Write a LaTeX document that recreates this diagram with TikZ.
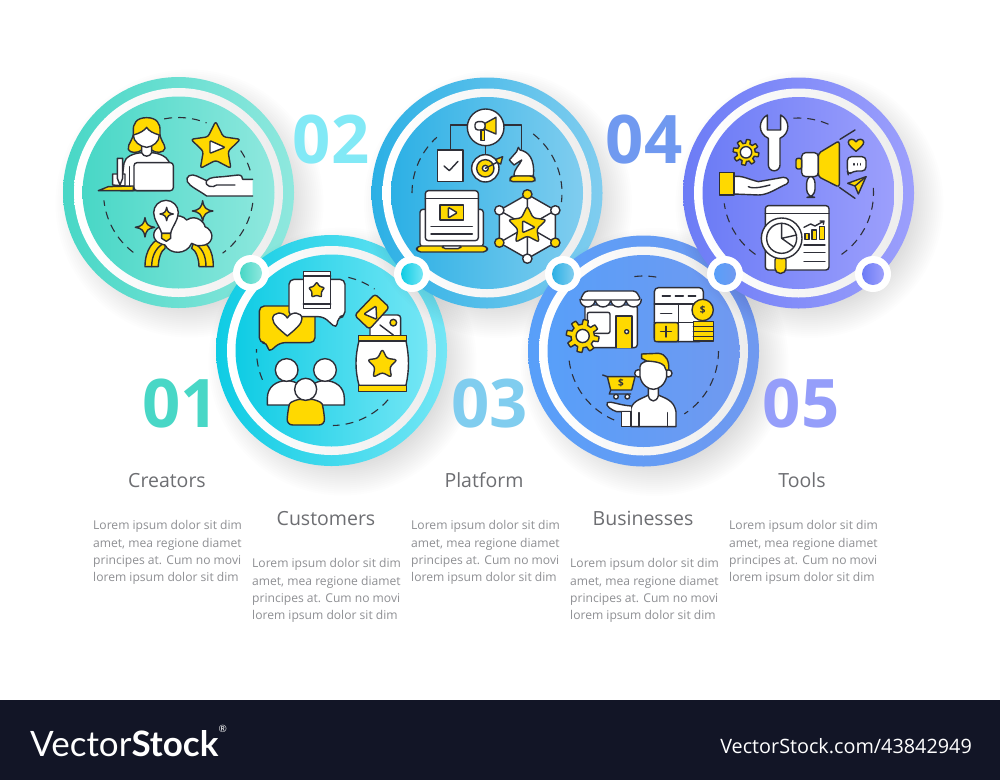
\documentclass[tikz,border=0pt]{standalone}
\usepackage{fontspec}
\setmainfont{Open Sans}
\newfontfamily\logofont{Lato}
\definecolor{inkc}{HTML}{2E2F38}
\definecolor{icoyellow}{HTML}{FFD900}
\definecolor{ringgray}{HTML}{EDEDED}
\definecolor{titlegray}{HTML}{6D6E72}
\definecolor{bodygray}{HTML}{8E8F93}
\definecolor{footerc}{HTML}{121526}
\definecolor{tealL}{HTML}{48D7C6}
\definecolor{tealR}{HTML}{8FE8DE}
\definecolor{aquaL}{HTML}{0FCCE4}
\definecolor{aquaR}{HTML}{74E6F5}
\definecolor{skyL}{HTML}{2CB0E5}
\definecolor{skyR}{HTML}{80CDEF}
\definecolor{blueL}{HTML}{589FF9}
\definecolor{blueR}{HTML}{7099F0}
\definecolor{violetL}{HTML}{6C7CF6}
\definecolor{violetR}{HTML}{9C9FFC}
\tikzset{
  wico/.style={draw=inkc,line width=1.4pt,line join=round,line cap=round,fill=white},
  yico/.style={draw=inkc,line width=1.4pt,line join=round,line cap=round,fill=icoyellow},
  inkline/.style={draw=inkc,line width=1.4pt,line join=round,line cap=round},
  dashring/.style={draw=inkc,line width=1.1pt,dash pattern=on 8pt off 6pt},
  numtext/.style={font=\fontsize{67}{67}\selectfont\bfseries,inner sep=0pt},
  titletext/.style={font=\fontsize{19.5}{22}\selectfont,text=titlegray,inner sep=0pt,anchor=base},
  bodytext/.style={font=\fontsize{12.1}{17.3}\selectfont,text=bodygray,align=left,anchor=north west,inner sep=0pt},
  signtext/.style={font=\fontsize{10}{10}\selectfont\bfseries,text=inkc,inner sep=0pt}
}
\newcommand{\ringdisc}[3]{%
  \foreach \rad in {102,104,...,134}
    \fill[black,opacity=0.008] ([shift={(11,11)}]#1) circle (\rad);
  \shade[left color=#2,right color=#3] (#1) circle (115.5);
  \shade[left color=white,right color=ringgray] (#1) circle (104.5);
  \shade[left color=#2,right color=#3] (#1) circle (96);
}
\newcommand{\linkdot}[3]{%
  \fill[white] (#1) circle (18);
  \shade[left color=#2,right color=#3] (#1) circle (11);
}
\newcommand{\icostar}[3]{%
  \begin{scope}[shift={(#1,#2)},scale=#3]
    \draw[yico,rounded corners=2.5pt] (-90:1) -- (-54:.5) -- (-18:1) -- (18:.5) -- (54:1)
      -- (90:.5) -- (126:1) -- (162:.5) -- (198:1) -- (234:.5) -- cycle;
  \end{scope}
}
\newcommand{\icospark}[3]{%
  \begin{scope}[shift={(#1,#2)},scale=#3]
    \draw[yico] (0,-1) .. controls (.12,-.3) and (.3,-.12) .. (1,0) .. controls (.3,.12) and (.12,.3) .. (0,1)
      .. controls (-.12,.3) and (-.3,.12) .. (-1,0) .. controls (-.3,-.12) and (-.12,-.3) .. cycle;
  \end{scope}
}
\newcommand{\icogear}[4]{%
  \begin{scope}[shift={(#1,#2)},scale=#3]
    \draw[yico] plot[domain=0:360,samples=145] (\x:{1+.17*max(-1,min(1,3*sin(8*\x)))}) -- cycle;
    \draw[wico] (0,0) circle (#4);
  \end{scope}
}
\newcommand{\icoheart}[4]{%
  \begin{scope}[shift={(#1,#2)},scale=#3]
    \draw[#4] (0,.9) .. controls (-.6,.4) and (-1.1,0) .. (-1.1,-.4) .. controls (-1.1,-.9) and (-.3,-1) .. (0,-.45)
      .. controls (.3,-1) and (1.1,-.9) .. (1.1,-.4) .. controls (1.1,0) and (.6,.4) .. cycle;
  \end{scope}
}
\begin{document}
\begin{tikzpicture}[x=1pt,y=-1pt]
  \useasboundingbox (0,0) rectangle (1000,780);
  \fill[white] (0,0) rectangle (1000,780);
  \fill[footerc] (0,700) rectangle (1000,780);

  \coordinate (creators) at (178.5,192.5);
  \coordinate (customers) at (331.5,350.5);
  \coordinate (platform) at (487,193);
  \coordinate (businesses) at (643.5,351);
  \coordinate (tools) at (798.5,193);
  \coordinate (dota) at (251,273);
  \coordinate (dotb) at (412,274);
  \coordinate (dotc) at (563,274);
  \coordinate (dotd) at (725,274);
  \coordinate (dote) at (873,274);

  \ringdisc{creators}{tealL}{tealR}
  \ringdisc{customers}{aquaL}{aquaR}
  \ringdisc{platform}{skyL}{skyR}
  \ringdisc{businesses}{blueL}{blueR}
  \ringdisc{tools}{violetL}{violetR}
  \linkdot{dota}{tealL}{tealR}
  \linkdot{dotb}{aquaL}{aquaR}
  \linkdot{dotc}{skyL}{skyR}
  \linkdot{dotd}{blueL}{blueR}
  \linkdot{dote}{violetL}{violetR}

  \foreach \a/\b in {-101/-68,-34/-14,8/54,127/174}
    \draw[dashring] (creators) ++(\a:75) arc (\a:\b:75);
  \foreach \a/\b in {-77/-55,41/89,157/181}
    \draw[dashring] (customers) ++(\a:75) arc (\a:\b:75);
  \foreach \a/\b in {-52/7,180/228}
    \draw[dashring] (platform) ++(\a:75) arc (\a:\b:75);
  \foreach \a/\b in {-97/-76,0/57,113/173}
    \draw[dashring] (businesses) ++(\a:75) arc (\a:\b:75);
  \foreach \a/\b in {-94/-64,-4/55,125/172}
    \draw[dashring] (tools) ++(\a:75) arc (\a:\b:75);

  % creators
  \begin{scope}[shift={(50,70)},scale=0.3333]
    \draw[wico] (212,362) -- (222,280) .. controls (225,260) and (250,250) .. (275,248) -- (305,248)
      .. controls (330,250) and (355,260) .. (360,285) -- (360,362) -- cycle;
    \draw[yico] (290,143) .. controls (260,143) and (248,160) .. (250,185) .. controls (252,210) and (232,220) .. (235,238)
      .. controls (238,250) and (265,250) .. (275,240) -- (305,240) .. controls (315,250) and (342,250) .. (345,235)
      .. controls (345,220) and (328,210) .. (330,185) .. controls (332,160) and (320,143) .. cycle;
    \draw[wico] (275,225) -- (275,248) .. controls (280,262) and (300,262) .. (305,248) -- (305,225) -- cycle;
    \draw[wico] (250,195) .. controls (270,190) and (285,180) .. (290,172) .. controls (295,182) and (310,190) .. (328,195)
      .. controls (328,215) and (310,230) .. (290,232) .. controls (270,230) and (250,215) .. cycle;
    \draw[yico] (145,362) -- (175,350) -- (250,348) -- (250,362) -- cycle;
    \draw[wico] (188,345) -- (188,312) -- (225,312) -- (225,348) -- cycle;
    \draw[wico] (202,265) -- (218,265) -- (218,325) -- (210,345) -- (202,325) -- cycle;
    \draw[inkline] (238,290) -- (238,348);
    \draw[wico,rounded corners=3pt] (252,278) rectangle (370,362);
    \icostar{497}{232}{78}
    \draw[wico,rounded corners=1pt] (480,212) -- (525,232) -- (480,250) -- cycle;
    \draw[wico] (608,378) -- (470,378) .. controls (445,360) and (420,350) .. (412,335) .. controls (405,318) and (425,310) .. (440,318)
      -- (470,332) .. controls (480,320) and (500,322) .. (520,320) -- (565,315) .. controls (575,315) and (578,322) .. (578,328) -- (608,328);
    \draw[inkline] (470,332) .. controls (462,350) and (490,355) .. (500,345) -- (555,345);
    \draw[yico] (285,590) .. controls (285,540) and (310,505) .. (345,500) -- (345,535) .. controls (335,540) and (325,565) .. (325,590) -- cycle;
    \draw[inkline] (305,590) .. controls (305,555) and (320,530) .. (345,518);
    \draw[yico] (490,590) .. controls (490,540) and (470,510) .. (435,505) -- (425,535) .. controls (437,540) and (447,565) .. (447,590) -- cycle;
    \draw[inkline] (468,590) .. controls (468,555) and (455,530) .. (430,520);
    \draw[wico] (330,520) .. controls (305,510) and (305,480) .. (330,470) .. controls (340,440) and (390,425) .. (410,450)
      .. controls (440,430) and (465,460) .. (465,470) .. controls (490,480) and (495,515) .. (465,525)
      .. controls (440,530) and (435,525) .. (425,520) .. controls (410,555) and (360,555) .. (345,525) .. controls (340,525) and (335,522) .. cycle;
    \draw[wico] (335,490) .. controls (330,470) and (311,450) .. (311,428) arc (180:360:37) .. controls (385,450) and (366,470) .. (362,490) -- cycle;
    \draw[yico] (335,490) -- (362,490) -- (362,505) -- (349,514) -- (335,505) -- cycle;
    \icospark{350}{432}{20}
    \icospark{458}{423}{31}
    \icospark{285}{472}{29}
  \end{scope}

  % customers
  \begin{scope}[shift={(210,230)},scale=0.3333]
    \draw[yico,rounded corners=5pt] (148,228) -- (315,228) -- (315,338) -- (210,338) -- (175,368) -- (172,338) -- (148,338) -- cycle;
    \draw[wico,rounded corners=5pt] (237,148) -- (405,148) -- (405,260) -- (384,260) -- (380,296) -- (340,260) -- (237,260) -- cycle;
    \icoheart{232}{282}{40}{wico}
    \draw[wico] (280,124) rectangle (362,235);
    \draw[inkline] (280,138) -- (362,138) (280,222) -- (362,222);
    \icostar{320}{181}{27}
    \draw[wico] (172,525) -- (172,505) .. controls (172,470) and (200,452) .. (230,452) .. controls (260,452) and (285,470) .. (285,505) -- (285,525) -- cycle;
    \draw[wico] (290,525) -- (290,505) .. controls (290,470) and (315,452) .. (345,452) .. controls (375,452) and (403,470) .. (403,505) -- (403,525) -- cycle;
    \draw[wico] (230,420) circle (34);
    \draw[wico] (345,420) circle (34);
    \draw[yico,rounded corners=6pt] (230,585) -- (234,540) .. controls (240,515) and (265,508) .. (287,508) .. controls (310,508) and (335,515) .. (341,540) -- (345,585) -- cycle;
    \draw[wico] (287,478) circle (33);
    \draw[wico,rounded corners=3pt] (480,315) -- (480,255) -- (572,255) -- (572,315);
    \draw[yico] (550,278) circle (10);
    \draw[inkline] (510,285) -- (550,315);
    \draw[yico,rounded corners=3pt] (495,192) -- (538,232) -- (478,298) -- (434,256) -- cycle;
    \draw[wico,rounded corners=1pt] (498,228) -- (500,268) -- (462,252) -- cycle;
    \draw[wico] (447,333) .. controls (435,380) and (435,420) .. (447,466) -- (588,466) .. controls (598,420) and (598,380) .. (588,333) -- cycle;
    \draw[yico] (445,316) rectangle (590,333);
    \draw[yico] (445,466) rectangle (590,484);
    \icostar{517}{404}{47}
  \end{scope}

  % platform
  \begin{scope}[shift={(370,70)},scale=0.3333]
    \draw[inkline] (292,165) -- (241,165) -- (241,240);
    \draw[inkline] (402,165) -- (455,165) -- (455,238);
    \draw[inkline] (347,228) -- (347,255);
    \draw[wico] (347,172) circle (55);
    \draw[yico] (345,160) -- (378,142) -- (378,192) -- (345,178) -- cycle;
    \draw[wico,rounded corners=3pt] (315,155) rectangle (345,180);
    \draw[yico] (333,180) rectangle (343,212);
    \draw[wico] (203,240) rectangle (279,334);
    \draw[inkline] (222,288) -- (238,302) -- (264,274);
    \draw[wico] (346,295) circle (41);
    \draw[yico] (346,295) circle (26);
    \draw[wico] (346,295) circle (9);
    \draw[inkline] (346,295) -- (385,275);
    \draw[yico] (378,268) -- (398,260) -- (392,282) -- (382,278) -- cycle;
    \draw[wico] (445,232) -- (450,240) .. controls (475,245) and (495,265) .. (490,318) -- (432,318)
      .. controls (432,295) and (450,285) .. (455,270) -- (432,285) -- (418,270) -- (440,245) -- cycle;
    \draw[yico,rounded corners=3pt] (420,335) -- (420,324) -- (428,318) -- (488,318) -- (495,324) -- (495,335) -- cycle;
    \draw[wico,rounded corners=3pt] (150,530) -- (150,418) -- (340,418) -- (340,530) -- cycle;
    \draw[wico,rounded corners=3pt] (166,512) -- (166,362) -- (325,362) -- (325,512) -- cycle;
    \draw[inkline] (166,385) -- (325,385);
    \draw[yico,rounded corners=4pt] (140,528) rectangle (352,546);
    \draw[wico,rounded corners=2pt] (215,528) -- (220,536) -- (270,536) -- (275,528) -- cycle;
    \draw[yico] (210,405) rectangle (280,450);
    \draw[wico,rounded corners=1pt] (235,412) -- (262,428) -- (235,444) -- cycle;
    \draw[inkline] (183,470) -- (307,470) (183,492) -- (307,492);
    \draw[wico] (472,373) -- (556,421) -- (556,518) -- (472,566) -- (388,518) -- (388,421) -- cycle;
    \draw[inkline] (472,373) -- (472,566) (388,421) -- (556,518) (556,421) -- (388,518);
    \draw[yico] (472,373) circle (14);
    \draw[wico] (556,421) circle (14);
    \draw[yico] (556,518) circle (14);
    \draw[wico] (472,566) circle (14);
    \draw[yico] (388,518) circle (14);
    \draw[wico] (388,421) circle (14);
    \icostar{472}{468}{60}
    \draw[wico,rounded corners=1pt] (458,452) -- (495,472) -- (458,488) -- cycle;
  \end{scope}

  % businesses
  \begin{scope}[shift={(530,230)},scale=0.3333]
    \draw[wico,rounded corners=3pt] (165,225) rectangle (322,353);
    \draw[wico,rounded corners=2pt] (172,247) rectangle (240,310);
    \draw[yico] (258,353) -- (258,258) -- (306,258) -- (306,353);
    \draw[wico] (290,305) circle (6);
    \foreach \sx in {150,196,242,288}
      \draw[wico] (\sx,208) arc (180:0:23);
    \draw[wico,rounded corners=3pt] (165,183) -- (318,183) -- (333,210) -- (150,210) -- cycle;
    \icogear{158}{318}{42}{.47}
    \draw[wico,rounded corners=4pt] (373,173) rectangle (520,335);
    \draw[yico,rounded corners=2pt] (373,278) rectangle (445,335);
    \draw[inkline] (373,222) -- (520,222) (373,278) -- (520,278) (445,222) -- (445,335) (392,250) -- (425,250);
    \draw[inkline,dash pattern=on 8pt off 5pt] (397,198) -- (497,198);
    \draw[inkline] (392,305) -- (424,305) (408,289) -- (408,321);
    \draw[yico] (490,275) rectangle (550,333);
    \draw[inkline] (490,290) -- (550,290) (490,305) -- (550,305) (490,320) -- (550,320);
    \draw[yico] (518,240) circle (32);
    \node[signtext] (coinsign) at (518,240) {\$};
    \draw[wico] (303,590) -- (303,535) .. controls (310,510) and (340,505) .. (355,495) -- (385,495)
      .. controls (405,505) and (432,510) .. (438,545) -- (438,590) -- cycle;
    \draw[wico] (303,545) -- (260,545) .. controls (245,540) and (225,528) .. (232,518) .. controls (240,512) and (265,525) .. (303,528);
    \draw[wico] (275,590) -- (275,545) -- (303,545) -- (303,590) -- cycle;
    \draw[inkline] (327,548) -- (327,590) (413,548) -- (413,590);
    \draw[wico] (355,470) -- (355,497) .. controls (360,518) and (380,518) .. (385,497) -- (385,470) -- cycle;
    \draw[wico] (325,430) circle (11);
    \draw[wico] (415,430) circle (11);
    \draw[wico] (330,410) .. controls (330,385) and (410,385) .. (410,410) -- (410,440) .. controls (405,465) and (385,478) .. (370,478)
      .. controls (355,478) and (335,465) .. (330,440) -- cycle;
    \draw[yico] (335,372) -- (385,370) .. controls (410,372) and (418,395) .. (416,420) -- (408,420)
      .. controls (405,400) and (385,395) .. (350,393) -- (335,385) -- cycle;
    \draw[inkline] (218,435) -- (232,440);
    \draw[yico] (232,440) -- (315,440) -- (305,480) -- (242,480) -- cycle;
    \node[signtext] (cartsign) at (273,460) {\$};
    \draw[inkline] (242,480) -- (238,492) -- (302,492);
    \draw[wico] (258,500) circle (7);
    \draw[wico] (292,500) circle (7);
  \end{scope}

  % tools
  \begin{scope}[shift={(680,70)},scale=0.3333]
    \icogear{198}{247}{33}{.52}
    \draw[wico] (262,135) .. controls (235,150) and (232,190) .. (265,205) -- (265,285) arc (180:0:17.5) -- (300,205)
      .. controls (332,190) and (330,150) .. (302,135) -- (302,180) -- (262,180) -- cycle;
    \draw[wico] (160,320) .. controls (185,315) and (205,328) .. (235,335) -- (310,322) .. controls (325,322) and (330,335) .. (320,342)
      .. controls (290,355) and (265,375) .. (235,375) -- (160,372) -- cycle;
    \draw[inkline] (205,350) .. controls (220,358) and (250,350) .. (270,345);
    \draw[yico] (118,308) -- (162,308) -- (162,375) -- (118,375) -- cycle;
    \draw[wico,rounded corners=8pt] (380,315) -- (380,382) -- (405,382) -- (405,315) -- cycle;
    \draw[wico,rounded corners=4pt] (365,248) -- (415,248) -- (415,320) -- (365,320) -- cycle;
    \draw[yico,rounded corners=2pt] (348,265) rectangle (365,297);
    \draw[yico,rounded corners=3pt] (415,250) -- (478,212) -- (478,352) -- (415,320) -- cycle;
    \draw[inkline] (480,208) -- (525,180) (478,352) -- (525,385);
    \icoheart{528}{225}{21}{yico}
    \draw[wico,rounded corners=4pt] (502,260) -- (558,260) -- (558,303) -- (520,303) -- (505,315) -- (502,303) -- cycle;
    \draw[inkline] (522,281) -- (522,285) (532,281) -- (532,285) (542,281) -- (542,285);
    \draw[yico] (558,320) -- (503,340) -- (525,348) -- (535,372) -- cycle;
    \draw[inkline] (525,348) -- (558,320);
    \draw[wico,rounded corners=3pt] (256,407) rectangle (447,600);
    \draw[inkline] (256,430) -- (447,430);
    \draw[yico,rounded corners=5pt] (285,555) -- (285,610) -- (318,610) -- (318,555) -- cycle;
    \draw[wico] (305,505) circle (61);
    \draw[wico] (305,505) circle (45);
    \draw[inkline] (305,460) -- (305,505) -- (340,530) (305,505) -- (350,495);
    \draw[yico] (375,490) rectangle (387,508);
    \draw[yico] (396,480) rectangle (410,508);
    \draw[yico] (418,470) rectangle (433,508);
    \draw[inkline] (372,472) -- (392,462) -- (405,468) -- (432,453) -- (420,453) (432,453) -- (430,463);
    \draw[inkline] (372,525) -- (435,525) (372,548) -- (435,548) (372,575) -- (435,575);
  \end{scope}

  \node[numtext,text=tealL] (numa) at (180.5,404) {01};
  \node[numtext,text=aquaR!90!white] (numb) at (331,140) {02};
  \node[numtext,text=skyR] (numc) at (489.5,404) {03};
  \node[numtext,text=blueR] (numd) at (644,140) {04};
  \node[numtext,text=violetR!85!blueR] (nume) at (801,404) {05};

  \node[titletext] (titlea) at (167,487) {Creators};
  \node[titletext] (titleb) at (326,525) {Customers};
  \node[titletext] (titlec) at (484,487) {Platform};
  \node[titletext] (titled) at (643,525) {Businesses};
  \node[titletext] (titlee) at (802,487) {Tools};

  \foreach \n/\tx/\ty in {a/93/520.5,b/252/558.5,c/411/520.5,d/570/558.5,e/729/520.5}
    \node[bodytext] (body\n) at (\tx,\ty) {Lorem ipsum dolor sit dim\\amet, mea regione diamet\\principes at. Cum no movi\\lorem ipsum dolor sit dim};

  \node[font=\logofont\fontsize{35}{35}\selectfont,text=white,anchor=west,inner sep=0pt] (logo) at (30,741) {Vector\textbf{Stock}\raisebox{.7em}{\fontsize{10}{10}\selectfont\textregistered}};
  \node[font=\fontsize{19.8}{21}\selectfont,text=white,anchor=east,inner sep=0pt] (stockid) at (972,746) {VectorStock.com/43842949};
\end{tikzpicture}
\end{document}
